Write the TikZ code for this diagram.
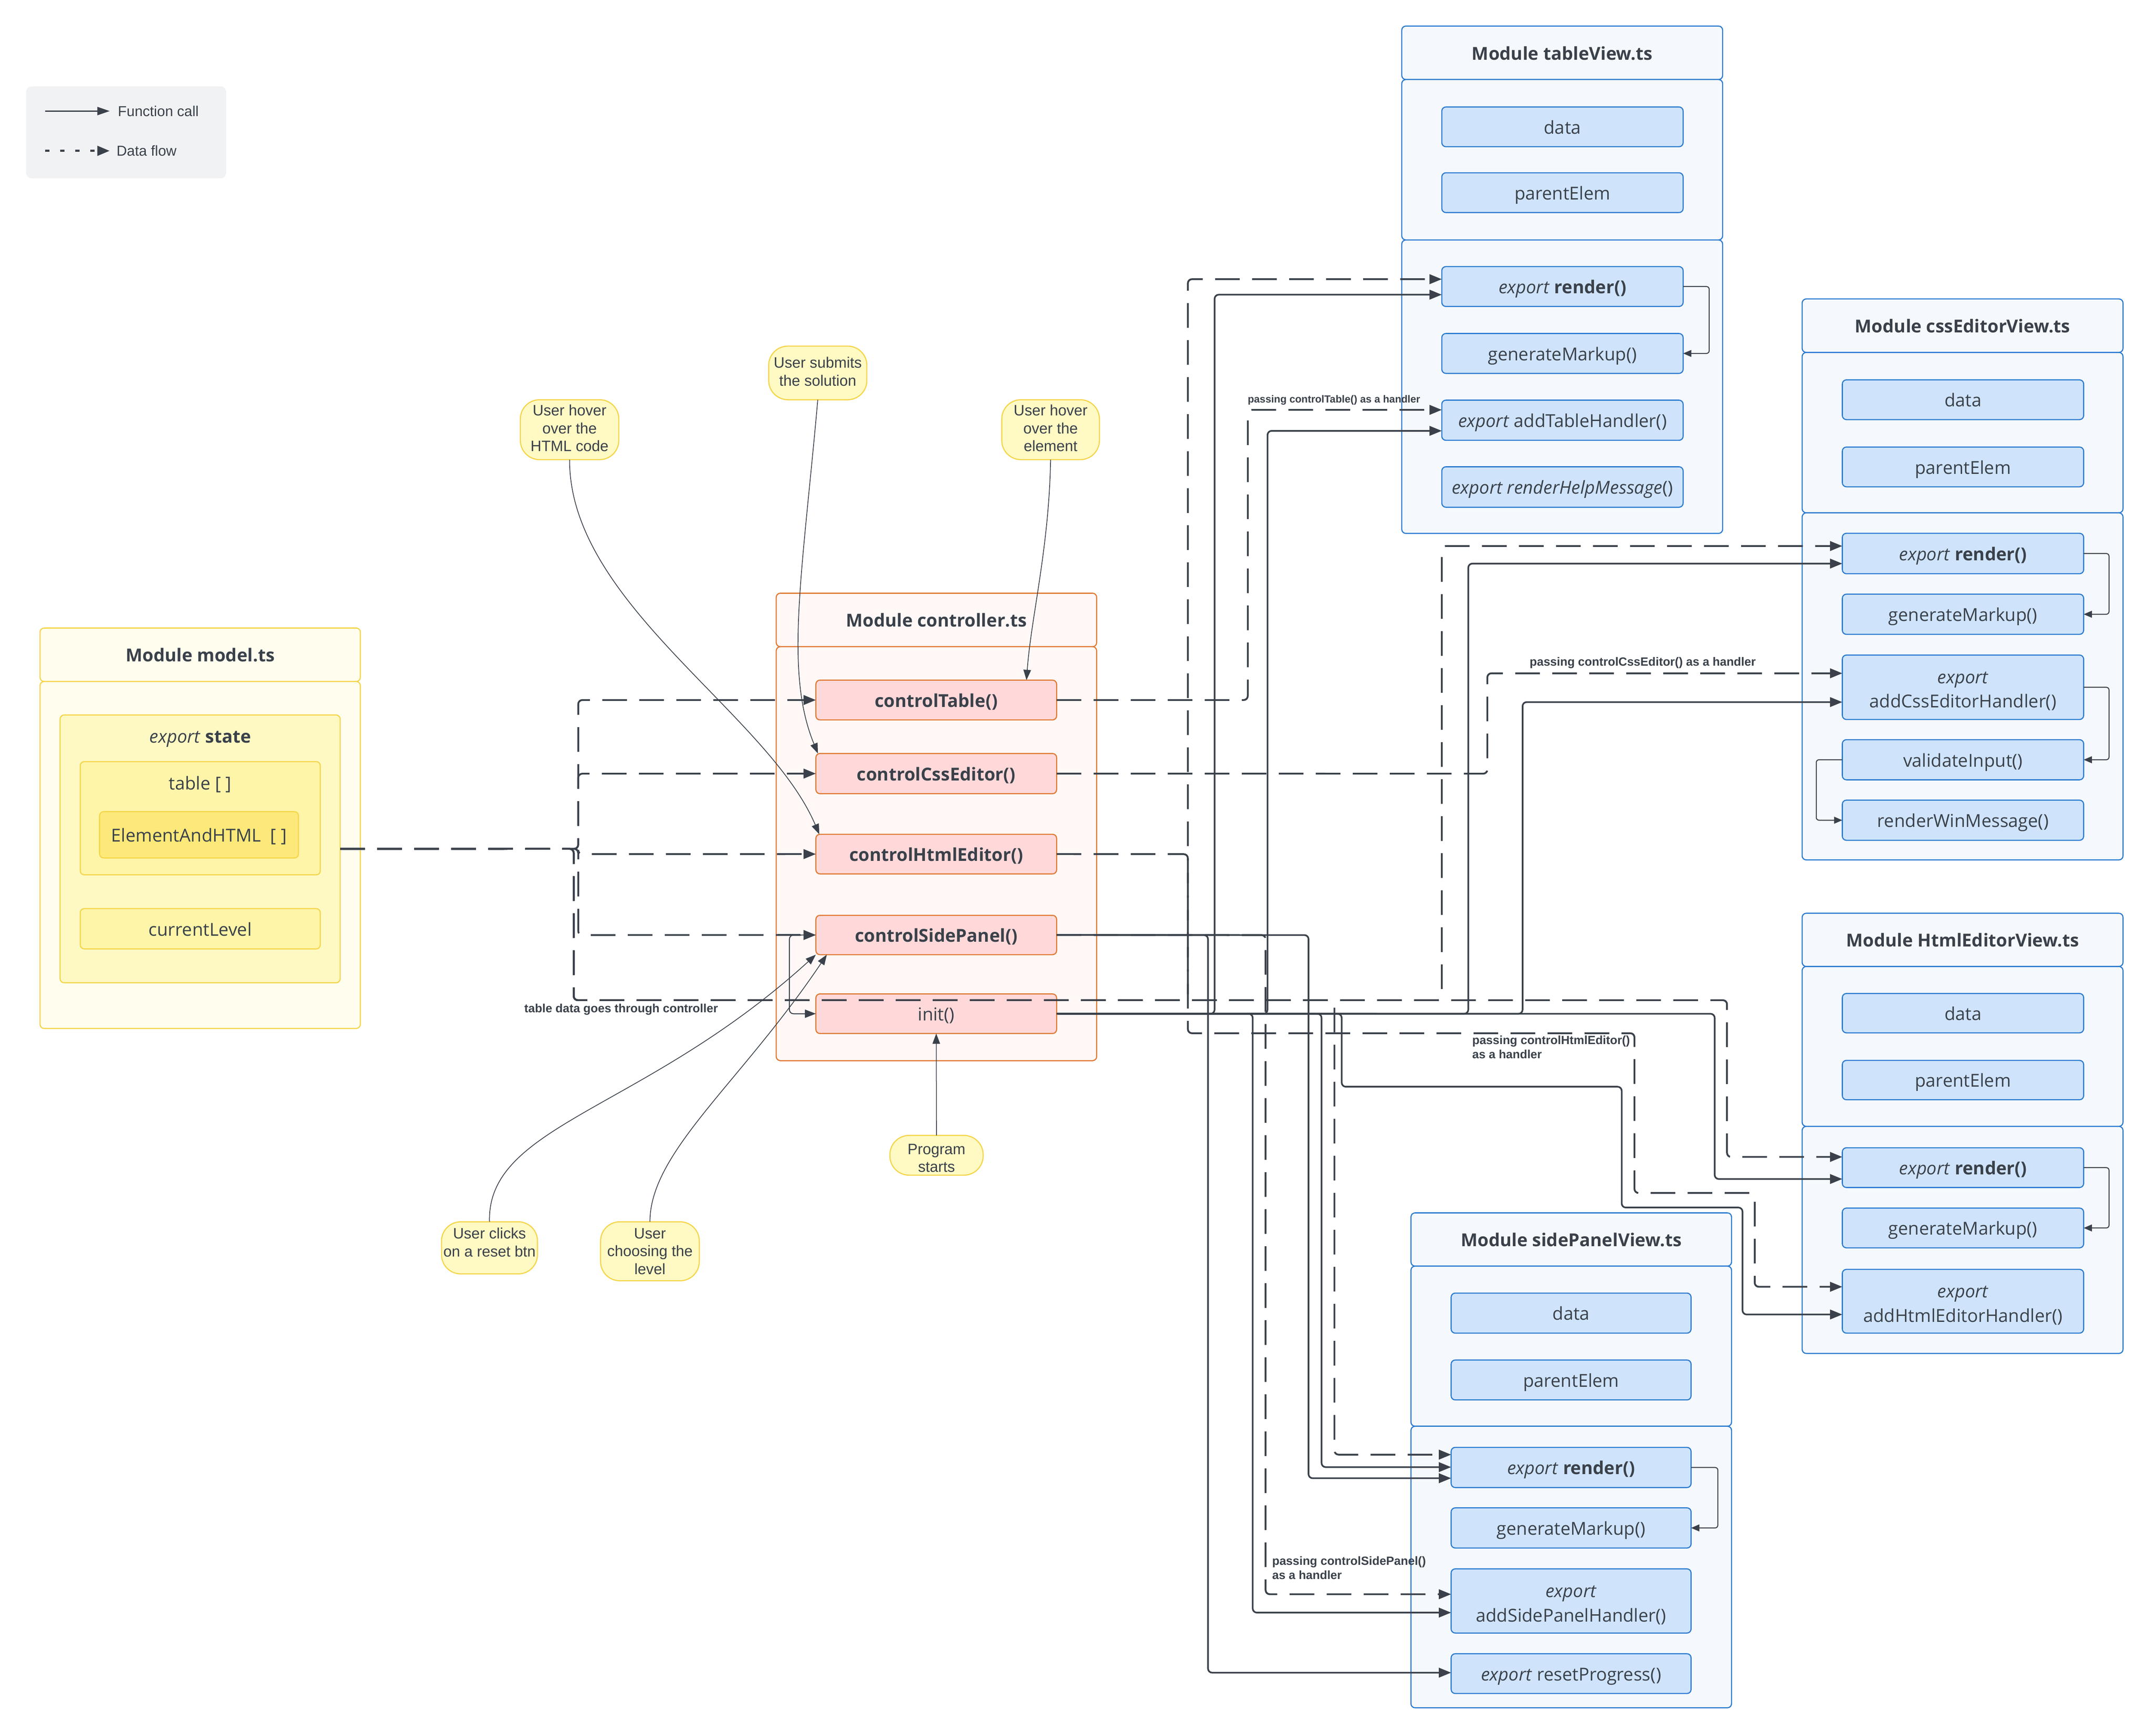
\documentclass[tikz,border=0pt]{standalone}
\usepackage{fontspec}
\setmainfont{Open Sans}
\newfontfamily\lib{Liberation Sans}
\usetikzlibrary{arrows.meta}
\definecolor{lc}{HTML}{3A414A}
\definecolor{vborder}{HTML}{2B7BD0}
\definecolor{vfill}{HTML}{F5F9FD}
\definecolor{ifill}{HTML}{CFE4FB}
\definecolor{cborder}{HTML}{E07A35}
\definecolor{cfill}{HTML}{FFF8F6}
\definecolor{cifill}{HTML}{FFD9D9}
\definecolor{mborder}{HTML}{F5D54A}
\definecolor{mfill}{HTML}{FEFDEE}
\definecolor{sfill}{HTML}{FEF9C3}
\definecolor{tfill}{HTML}{FEF5A8}
\definecolor{efill}{HTML}{FDE97A}
\definecolor{bubfill}{HTML}{FFF9C4}
\definecolor{legfill}{HTML}{F1F2F4}
\tikzset{
 boxbase/.style={inner sep=0pt, outer sep=0pt, text=lc, font=\fontsize{13}{18}\selectfont, align=center},
 boxtext/.style={boxbase, text height=10.8pt, text depth=0.6pt},
 vmod/.style={boxtext, draw=vborder, fill=vfill, line width=0.8pt, rounded corners=3pt},
 vitem/.style={boxtext, draw=vborder, fill=ifill, line width=0.8pt, rounded corners=3pt},
 cmod/.style={boxtext, draw=cborder, fill=cfill, line width=0.8pt, rounded corners=3pt},
 citem/.style={boxtext, draw=cborder, fill=cifill, line width=0.8pt, rounded corners=3pt},
 mmod/.style={boxtext, draw=mborder, fill=mfill, line width=0.8pt, rounded corners=3pt},
 mstate/.style={mmod, fill=sfill},
 mtable/.style={mmod, fill=tfill},
 melem/.style={mmod, fill=efill},
 bubble/.style={boxbase, draw=mborder, fill=bubfill, line width=0.8pt, rounded corners=14pt},
 bubtext/.style={boxbase, font=\lib\fontsize{11}{13}\selectfont},
 legbox/.style={boxbase, fill=legfill, rounded corners=4pt},
 legtxt/.style={boxbase, anchor=west, font=\lib\fontsize{10.5}{12}\selectfont},
 lbl/.style={boxbase, font=\lib\bfseries\fontsize{8.7}{10.3}\selectfont, align=left},
 lblsmall/.style={lbl, font=\lib\bfseries\fontsize{7.5}{10}\selectfont},
 flow/.style={draw=lc, line width=1.2pt, rounded corners=3pt, -{Triangle[length=9pt,width=7pt]}},
 dflow/.style={flow, line width=1.3pt, dash pattern=on 18pt off 9pt},
 thinflow/.style={draw=lc, line width=0.55pt, -{Triangle[length=7.5pt,width=5.5pt]}},
 selfarr/.style={draw=lc, line width=0.7pt, rounded corners=2pt, -{Triangle[length=6pt,width=5pt]}},
}
\newcommand\mybox[7]{%
 \pgfmathsetmacro\mbw{#5-#3}%
 \pgfmathsetmacro\mbh{#6-#4}%
 \pgfmathsetmacro\mbx{(#3+#5)/2}%
 \pgfmathsetmacro\mby{(#4+#6)/2}%
 \node[#1, minimum width=\mbw pt, minimum height=\mbh pt] (#2) at (\mbx,\mby) {#7};}
\begin{document}
\begin{tikzpicture}[x=1pt,y=-1pt]
\useasboundingbox (0,0) rectangle (1568,1266);
\fill[white] (0,0) rectangle (1568,1266);
% legend
\mybox{legbox}{legend}{19}{63}{165}{130}{}
\coordinate (lg1a) at (33,81); \coordinate (lg1b) at (80,81);
\coordinate (lg2a) at (33,110); \coordinate (lg2b) at (80,110);
\draw[draw=lc, line width=0.8pt, -{Triangle[length=9pt,width=6pt]}] (lg1a) -- (lg1b);
\draw[draw=lc, line width=1.7pt, dash pattern=on 3pt off 8pt, -{Triangle[length=9pt,width=7pt]}] (lg2a) -- (lg2b);
\node[legtxt] (lgt1) at (86,81) {Function call};
\node[legtxt] (lgt2) at (85,110) {Data flow};
% model
\mybox{mmod}{modelH}{29.2}{458}{262.8}{497}{\bfseries Module model.ts}
\mybox{mmod}{modelB}{29.2}{497}{262.8}{750}{}
\mybox{mstate}{state}{43.8}{521.4}{248.1}{716.7}{}
\node[boxtext] (stateT) at (146,536.5) {\textit{export} \textbf{state}};
\mybox{mtable}{tableArr}{58.5}{555.4}{233.6}{638}{}
\node[boxtext] (tableT) at (146,570.7) {table [ ]};
\mybox{melem}{eah}{72.6}{591.9}{217.7}{625.7}{ElementAndHTML\ \ [ ]}
\mybox{mtable}{curLevel}{58.5}{662.6}{233.6}{692}{currentLevel}
% controller
\mybox{cmod}{ctrlH}{566.1}{432.6}{799.8}{471.6}{\bfseries Module controller.ts}
\mybox{cmod}{ctrlB}{566.1}{471.6}{799.8}{773.5}{}
\mybox{citem}{cT}{595}{496}{770.6}{525}{\bfseries controlTable()}
\mybox{citem}{cC}{595}{549.5}{770.6}{578.8}{\bfseries controlCssEditor()}
\mybox{citem}{cH}{595}{608.4}{770.6}{637.3}{\bfseries controlHtmlEditor()}
\mybox{citem}{cS}{595}{667.5}{770.6}{696.2}{\bfseries controlSidePanel()}
\mybox{citem}{init}{595}{724.8}{770.6}{753.7}{init()}
% tableView
\mybox{vmod}{tvH}{1022.3}{19}{1256.3}{58}{\bfseries Module tableView.ts}
\mybox{vmod}{tvB1}{1022.3}{58}{1256.3}{175}{}
\mybox{vmod}{tvB2}{1022.3}{175}{1256.3}{389}{}
\mybox{vitem}{tvData}{1051.5}{78}{1227.5}{107}{data}
\mybox{vitem}{tvParent}{1051.5}{126}{1227.5}{155}{parentElem}
\mybox{vitem}{tvRender}{1051.5}{194.4}{1227.5}{223.5}{\textit{export} \textbf{render()}}
\mybox{vitem}{tvGen}{1051.5}{243.2}{1227.5}{272.3}{generateMarkup()}
\mybox{vitem}{tvAdd}{1051.5}{291.8}{1227.5}{321.1}{\textit{export} addTableHandler()}
\mybox{vitem}{tvHelp}{1051.5}{340.4}{1227.5}{369.9}{\textit{export renderHelpMessage}()}
% cssEditorView
\mybox{vmod}{cssH}{1314.3}{218}{1548.3}{257}{\bfseries Module cssEditorView.ts}
\mybox{vmod}{cssB1}{1314.3}{257}{1548.3}{374}{}
\mybox{vmod}{cssB2}{1314.3}{374}{1548.3}{627.1}{}
\mybox{vitem}{cssData}{1343.6}{277}{1519.6}{306}{data}
\mybox{vitem}{cssParent}{1343.6}{326}{1519.6}{355}{parentElem}
\mybox{vitem}{cssRender}{1343.6}{388.9}{1519.6}{418.4}{\textit{export} \textbf{render()}}
\mybox{vitem}{cssGen}{1343.6}{433.3}{1519.6}{462.6}{generateMarkup()}
\mybox{vitem}{cssAdd}{1343.6}{477.7}{1519.6}{524.7}{}
\node[boxtext] (cssAddT1) at (1431.6,493.3) {\textit{export}};
\node[boxtext] (cssAddT2) at (1431.6,511) {addCssEditorHandler()};
\mybox{vitem}{cssVal}{1343.6}{539.4}{1519.6}{568.7}{validateInput()}
\mybox{vitem}{cssWin}{1343.6}{583.5}{1519.6}{612.8}{renderWinMessage()}
% HtmlEditorView
\mybox{vmod}{htmlH}{1314.3}{666}{1548.3}{704.8}{\bfseries Module HtmlEditorView.ts}
\mybox{vmod}{htmlB1}{1314.3}{704.8}{1548.3}{821.4}{}
\mybox{vmod}{htmlB2}{1314.3}{821.4}{1548.3}{987}{}
\mybox{vitem}{htmlData}{1343.6}{724.5}{1519.6}{753.2}{data}
\mybox{vitem}{htmlParent}{1343.6}{773.3}{1519.6}{802}{parentElem}
\mybox{vitem}{htmlRender}{1343.6}{837}{1519.6}{866}{\textit{export} \textbf{render()}}
\mybox{vitem}{htmlGen}{1343.6}{881}{1519.6}{910}{generateMarkup()}
\mybox{vitem}{htmlAdd}{1343.6}{925.7}{1519.6}{972.2}{}
\node[boxtext] (htmlAddT1) at (1431.6,941.3) {\textit{export}};
\node[boxtext] (htmlAddT2) at (1431.6,959) {addHtmlEditorHandler()};
% sidePanelView
\mybox{vmod}{spH}{1029}{884.5}{1262.8}{923.3}{\bfseries Module sidePanelView.ts}
\mybox{vmod}{spB1}{1029}{923.3}{1262.8}{1040.1}{}
\mybox{vmod}{spB2}{1029}{1040.1}{1262.8}{1245.4}{}
\mybox{vitem}{spData}{1058.3}{943}{1233.3}{972.2}{data}
\mybox{vitem}{spParent}{1058.3}{991.8}{1233.3}{1020.9}{parentElem}
\mybox{vitem}{spRender}{1058.3}{1055.5}{1233.3}{1084.8}{\textit{export} \textbf{render()}}
\mybox{vitem}{spGen}{1058.3}{1099.6}{1233.3}{1128.9}{generateMarkup()}
\mybox{vitem}{spAdd}{1058.3}{1144.1}{1233.3}{1190.9}{}
\node[boxtext] (spAddT1) at (1145.8,1159.8) {\textit{export}};
\node[boxtext] (spAddT2) at (1145.8,1177.5) {addSidePanelHandler()};
\mybox{vitem}{spReset}{1058.3}{1206}{1233.3}{1235}{\textit{export} resetProgress()}
% bubbles
\mybox{bubble}{bHtml}{379.5}{291.5}{451.3}{335.2}{}
\node[bubtext] (bHtmlT) at (415.4,312.3) {User hover\\over the\\HTML code};
\mybox{bubble}{bSub}{560.6}{252.4}{632.2}{291.5}{}
\node[bubtext] (bSubT) at (596.4,271) {User submits\\the solution};
\mybox{bubble}{bElem}{730.6}{291.5}{801.8}{335.2}{}
\node[bubtext] (bElemT) at (766.2,312.3) {User hover\\over the\\element};
\mybox{bubble}{bReset}{322}{891}{392}{929}{}
\node[bubtext] (bResetT) at (357,906) {User clicks\\on a reset btn};
\mybox{bubble}{bChoose}{438}{891}{510}{934}{}
\node[bubtext] (bChooseT) at (474,912.5) {User\\choosing the\\level};
\mybox{bubble}{bProg}{649}{828}{717}{857}{}
\node[bubtext] (bProgT) at (683,844.5) {Program\\starts};
% bubble connectors
\draw[thinflow] (bHtml.south) .. controls (415,440) and (560,520) .. ([xshift=2.5pt]cH.north west);
\draw[thinflow] (bSub.south) .. controls (585,420) and (572,490) .. ([xshift=1.5pt]cC.north west);
\draw[thinflow] (bElem.south) .. controls (765,400) and (752,450) .. (748.6,0 |- cT.north);
\draw[thinflow] (bReset.north) .. controls (355,820) and (470,810) .. (cS.south west);
\draw[thinflow] (bChoose.north) .. controls (474,840) and (540,790) .. (603,0 |- cS.south);
\draw[thinflow] (bProg.north) -- (init.south);
% self arrows
\draw[selfarr] (tvRender.east) -- ++(19,0) |- (tvGen.east);
\draw[selfarr] (cssRender.east) -- ++(18.5,0) |- (cssGen.east);
\draw[selfarr] (cssAdd.east) -- ++(18.5,0) |- (cssVal.east);
\draw[selfarr] (cssVal.west) -- ++(-19,0) |- (cssWin.west);
\draw[selfarr] (htmlRender.east) -- ++(18.5,0) |- (htmlGen.east);
\draw[selfarr] (spRender.east) -- ++(19.5,0) |- (spGen.east);
% controller internal
\draw[draw=lc, line width=0.7pt, rounded corners=3pt, {Triangle[length=8pt,width=6pt]}-{Triangle[length=8pt,width=6pt]}] (cS.west) -- (575.7,681.9) -- (575.7,739.3) -- (init.west);
% model data flow
\draw[dflow] (state.east) -- (421.7,619) -- (421.7,510.5) -- (cT.west);
\draw[dflow] (state.east) -- (421.7,619) -- (421.7,564.2) -- (cC.west);
\draw[dflow] (state.east) -- (421.7,619) -- (421.7,622.9) -- (cH.west);
\draw[dflow] (state.east) -- (421.7,619) -- (421.7,681.9) -- (cS.west);
\draw[dflow] (state.east) -- (418.4,619) -- (418.4,729.4) -- (866.3,729.4) -- (866.3,203.6) -- (tvRender.west |- 0,203.6);
\draw[dflow] (state.east) -- (418.4,619) -- (418.4,729.4) -- (973.2,729.4) -- (973.2,1060.8) -- (spRender.west |- 0,1060.8);
\draw[dflow] (state.east) -- (418.4,619) -- (418.4,729.4) -- (1051.5,729.4) -- (1051.5,398.2) -- (cssRender.west |- 0,398.2);
\draw[dflow] (state.east) -- (418.4,619) -- (418.4,729.4) -- (1259.5,729.4) -- (1259.5,843.7) -- (htmlRender.west |- 0,843.7);
% handlers passed (dashed)
\draw[dflow] (cT.east) -- (910,510.5) -- (910,298.9) -- (tvAdd.west |- 0,298.9);
\draw[dflow] (cC.east) -- (1084.7,564.2) -- (1084.7,491) -- (cssAdd.west |- 0,491);
\draw[dflow] (cH.east) -- (866.3,622.9) -- (866.3,753.5) -- (1192,753.5) -- (1192,870) -- (1279.7,870) -- (1279.7,938.4) -- (htmlAdd.west |- 0,938.4);
\draw[dflow] (cS.east) -- (923,681.9) -- (923,1162.6) -- (spAdd.west |- 0,1162.6);
% controlSidePanel calls
\draw[flow] (cS.east) -- (881,681.9) -- (881,1219.8) -- (spReset.west |- 0,1219.8);
\draw[flow] (cS.east) -- (954.3,681.9) -- (954.3,1078) -- (spRender.west |- 0,1078);
% init calls
\draw[flow] (init.east) -- (885.8,739.3) -- (885.8,214.9) -- (tvRender.west |- 0,214.9);
\draw[flow] (init.east) -- (924.4,739.3) -- (924.4,314.2) -- (tvAdd.west |- 0,314.2);
\draw[flow] (init.east) -- (913.6,739.3) -- (913.6,1176) -- (spAdd.west |- 0,1176);
\draw[flow] (init.east) -- (963.8,739.3) -- (963.8,1069.9) -- (spRender.west |- 0,1069.9);
\draw[flow] (init.east) -- (978.5,739.3) -- (978.5,792.5) -- (1182.7,792.5) -- (1182.7,880.6) -- (1270.8,880.6) -- (1270.8,958.6) -- (htmlAdd.west |- 0,958.6);
\draw[flow] (init.east) -- (1070.8,739.3) -- (1070.8,411) -- (cssRender.west |- 0,411);
\draw[flow] (init.east) -- (1110.4,739.3) -- (1110.4,512) -- (cssAdd.west |- 0,512);
\draw[flow] (init.east) -- (1250.5,739.3) -- (1250.5,859.8) -- (htmlRender.west |- 0,859.8);
% labels
\node[lblsmall, anchor=west] (lT) at (910,291.8) {passing controlTable() as a handler};
\node[lbl, anchor=west] (lC) at (1115.6,483.3) {passing controlCssEditor() as a handler};
\node[lbl, anchor=north west] (lH) at (1073.7,755.3) {passing controlHtmlEditor()\\as a handler};
\node[lbl, anchor=north west] (lS) at (927.8,1135) {passing controlSidePanel()\\as a handler};
\node[lbl, align=center] (lD) at (453,736) {table data goes through controller};
\end{tikzpicture}
\end{document}
